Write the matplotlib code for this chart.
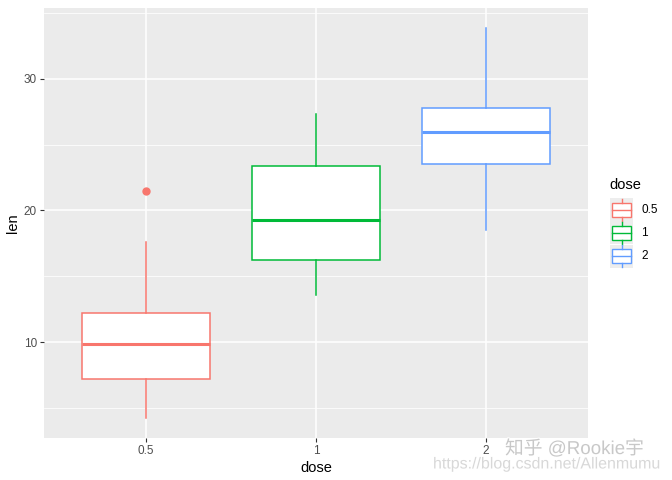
import numpy as np
import matplotlib
matplotlib.use("Agg")
import matplotlib.pyplot as plt
from matplotlib.patches import Rectangle
from matplotlib.lines import Line2D
import matplotlib.patheffects as pe

plt.rcParams['font.family'] = ['Liberation Sans', 'Noto Sans CJK SC', 'DejaVu Sans']

# -----------------------------
# Box statistics (ToothGrowth len by dose)
# -----------------------------
doses = ["0.5", "1", "2"]
q1 = [7.225, 16.25, 23.525]
med = [9.85, 19.25, 25.95]
q3 = [12.25, 23.375, 27.825]
whis_lo = [4.2, 13.6, 18.5]
whis_hi = [17.6, 27.3, 33.9]
outliers = [[21.5], [], []]
colors = ["#F8766D", "#00BA38", "#619CFF"]

fig = plt.figure(figsize=(6.72, 4.8), dpi=100)
ax = fig.add_axes([44 / 672, 42 / 480, 544 / 672, 430 / 480])
ax.set_facecolor("#EBEBEB")

# grid like ggplot's theme_grey
for y in [5, 15, 25, 35]:
    ax.axhline(y, color="white", lw=0.55, zorder=0)
for y in [10, 20, 30]:
    ax.axhline(y, color="white", lw=1.1, zorder=0)
for i in range(len(doses)):
    ax.axvline(i + 1, color="white", lw=1.1, zorder=0)

stats = []
for i in range(len(doses)):
    stats.append(dict(med=med[i], q1=q1[i], q3=q3[i], whislo=whis_lo[i],
                      whishi=whis_hi[i], fliers=outliers[i]))

for i, s in enumerate(stats):
    c = colors[i]
    ax.bxp([s], positions=[i + 1], widths=0.75, patch_artist=True,
           showcaps=False,
           boxprops=dict(facecolor="white", edgecolor=c, lw=1.1),
           medianprops=dict(color=c, lw=2.2),
           whiskerprops=dict(color=c, lw=1.1),
           flierprops=dict(marker="o", markerfacecolor=c, markeredgecolor=c,
                           markersize=5),
           zorder=2)

ax.set_xlim(0.4, 3.6)
ax.set_ylim(2.715, 35.385)
ax.set_xticks([1, 2, 3])
ax.set_xticklabels(doses)
ax.set_yticks([10, 20, 30])
for sp in ax.spines.values():
    sp.set_visible(False)
ax.tick_params(colors="#333333", labelcolor="#4D4D4D", labelsize=8.5,
               length=3, width=0.8, pad=2)
ax.set_xlabel("dose", fontsize=10.5, labelpad=3)
ax.set_ylabel("len", fontsize=10.5, labelpad=3)

# -----------------------------
# Legend drawn by hand (ggplot style keys)
# -----------------------------
fig.text(609 / 672, 1 - 185 / 480, "dose", fontsize=10.5, va="center", ha="left")
key_y = [210, 233, 256]
for i, d in enumerate(doses):
    yc = 1 - key_y[i] / 480
    kx, kw, kh = 610 / 672, 23 / 672, 23 / 480
    fig.patches.append(Rectangle((kx, yc - kh / 2), kw, kh, transform=fig.transFigure,
                                 facecolor="#EDEDED", edgecolor="none"))
    bx0, bx1 = 612 / 672, 631 / 672
    by0, by1 = yc - 7 / 480, yc + 7 / 480
    fig.patches.append(Rectangle((bx0, by0), bx1 - bx0, by1 - by0, transform=fig.transFigure,
                                 facecolor="white", edgecolor=colors[i], lw=1.0))
    fig.lines.append(Line2D([bx0, bx1], [yc, yc], transform=fig.transFigure,
                            color=colors[i], lw=1.0))
    xm = (bx0 + bx1) / 2
    fig.lines.append(Line2D([xm, xm], [by1, yc + 11 / 480], transform=fig.transFigure,
                            color=colors[i], lw=1.0))
    fig.lines.append(Line2D([xm, xm], [by0, yc - 11 / 480], transform=fig.transFigure,
                            color=colors[i], lw=1.0))
    fig.text(641 / 672, yc, d, fontsize=8.5, va="center", ha="left", color="black")

# watermarks
wm = [pe.withStroke(linewidth=1.5, foreground="white")]
fig.text(505 / 672, 1 - 449 / 480, "知乎 @Rookie宇", fontsize=13.5, color="#C8C8C8",
         va="center", ha="left", path_effects=wm)
fig.text(433 / 672, 1 - 464 / 480, "https://blog.csdn.net/Allenmumu", fontsize=11.5,
         color="#D8D8D8", va="center", ha="left", path_effects=wm)

fig.savefig("out.png", dpi=100)
